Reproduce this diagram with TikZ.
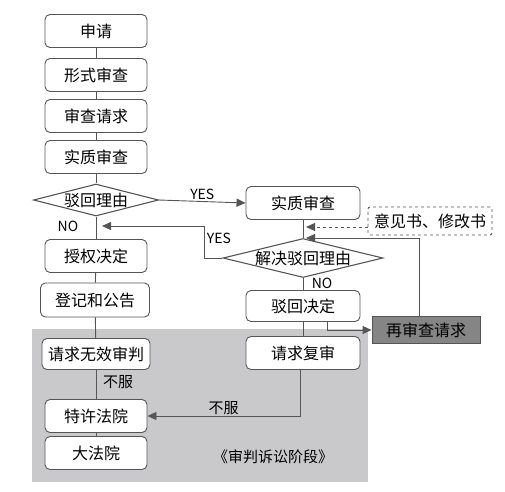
\documentclass[tikz,border=0pt]{standalone}
\usepackage{fontspec}
\setmainfont{Noto Sans CJK SC}
\usepackage{tikz}
\usetikzlibrary{arrows.meta,positioning,calc,shapes.geometric}
\definecolor{cLine}{HTML}{555555}
\definecolor{cZone}{HTML}{C9C9CB}
\definecolor{cRe}  {HTML}{858585}
\tikzset{
  blk/.style   ={draw=cLine,fill=white,rounded corners=5pt,align=center,
                 inner sep=0pt,line width=0.9pt,minimum width=102pt,
                 minimum height=33pt,font=\fontsize{16}{19}\selectfont},
  dia/.style   ={draw=cLine,fill=white,shape=diamond,inner sep=0pt,
                 line width=1.1pt,label={[font=\fontsize{16}{19}\selectfont]center:#1}},
  lnk/.style   ={draw=cLine,line width=0.9pt},
  sig/.style   ={lnk,-{Triangle[length=9pt,width=8pt]}},
  lbl/.style   ={font=\fontsize{14}{16}\selectfont,inner sep=1pt},
  tag/.style   ={font=\fontsize{15}{18}\selectfont,inner sep=1pt},
}

\begin{document}
\begin{tikzpicture}[x=1pt, y=-1pt]
\useasboundingbox (0,0) rectangle (505,491);

% litigation stage
\fill[cZone] (32,329) rectangle (368,482);
\node[tag] (stage) at (273,457) {《审判诉讼阶段》};

% main column
\node[blk] (apl) at (96,31)  {申请};
\node[blk] (frm) at (96,75)  {形式审查};
\node[blk] (req) at (96,116) {审查请求};
\node[blk] (sub) at (96,157) {实质审查};
\node[dia=驳回理由,minimum width=125pt,minimum height=32pt] (rj) at (96,200) {};
\node[blk] (grt) at (96,256) {授权决定};
\node[blk,minimum width=109pt,minimum height=34pt] (reg) at (95,300) {登记和公告};
\node[blk,minimum width=108pt,minimum height=31pt] (inv) at (96,354) {请求无效审判};
\node[blk] (pat) at (96,416) {特许法院};
\node[blk] (sup) at (96,453) {大法院};

% right column
\node[blk,minimum width=114pt] (sub2) at (303,203) {实质审查};
\node[dia=解决驳回理由,minimum width=160pt,minimum height=39pt] (rs) at (303,258) {};
\node[blk,minimum width=114pt,minimum height=31pt] (rjd) at (303,306) {驳回决定};
\node[blk,minimum width=114pt] (apc) at (303,353) {请求复审};
\node[draw=cLine,fill=cRe,line width=0.9pt,minimum width=108pt,minimum height=27pt,
      inner sep=0pt,font=\fontsize{16}{19}\selectfont] (rex) at (426,330) {再审查请求};
\node[draw=cLine,dashed,rounded corners=2pt,line width=0.9pt,minimum width=124pt,
      minimum height=28pt,inner sep=0pt,font=\fontsize{16}{19}\selectfont] (opn) at (430,221) {意见书、修改书};

\coordinate (noin) at (102,226);
\coordinate (opin) at (306,227);
\coordinate (rein) at (306,238);

\foreach \a/\b in {apl/frm,frm/req,req/sub,sub/rj,rj/grt,grt/reg,reg/inv,inv/pat,pat/sup,
                   sub2/rs,rs/rjd,rjd/apc}{%
  \draw[lnk] (\a) -- (\b);}

\draw[sig] (rj.east) -- node[lbl,above] {YES} (sub2.west);
\node[lbl] (no1) at (68,226) {NO};
\draw[sig] (rs.west) -- ++(-18,0) |- node[lbl,pos=0.3,right=1pt] {YES} (noin);
\node[lbl] (no2) at (322,283) {NO};
\draw[sig,dashed] (opn.west |- opin) -- (opin);
\draw[sig] ($(rex.north)+(-7,0)$) |- (rein);
\draw[sig] ($(rjd.south)+(24,0)$) |- (rex.west);
\draw[sig] ($(apc.south)+(-3,0)$) |- node[tag,pos=0.75,above] {不服} (pat.east);
\node[tag] (obj) at (118,382) {不服};
\end{tikzpicture}
\end{document}
